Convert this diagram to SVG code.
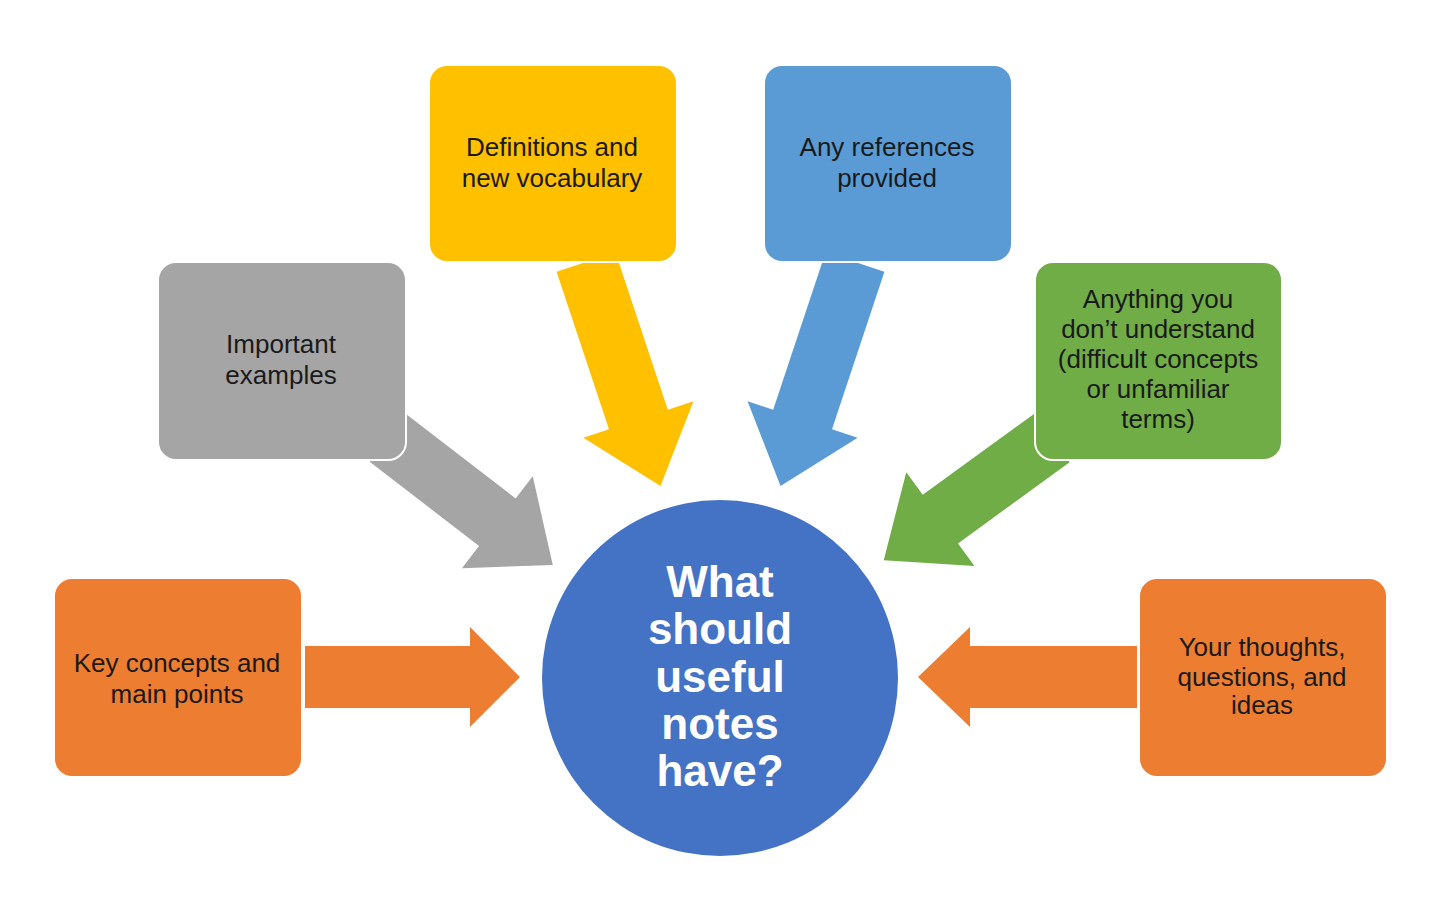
<svg xmlns="http://www.w3.org/2000/svg" width="1448" height="902" viewBox="0 0 1448 902">
<style>
.b{stroke:#fff;stroke-width:2}
.t{font-family:"Liberation Sans",Arial,sans-serif;font-size:26px;fill:#1a1a1a;text-anchor:middle}
.c{font-family:"Liberation Sans",Arial,sans-serif;font-size:44px;font-weight:bold;fill:#fff;text-anchor:middle}
</style>
<rect width="1448" height="902" fill="#fff"/>
<g id="connectors">
<path fill="#ED7D31" d="M305,646 H470 V627 L520,677 L470,727 V708 H305 Z"/>
<path fill="#ED7D31" d="M1137,646 H970 V627 L918,677 L970,727 V708 H1137 Z"/>
<path fill="#A5A5A5" transform="translate(388,438) rotate(37.6)" d="M0,-30 H138 V-58 L208,0 L138,58 V30 H0 Z"/>
<path fill="#FFC000" transform="translate(586,262) rotate(71.6)" d="M0,-31 H166 V-58 L236,0 L166,58 V31 H0 Z"/>
<path fill="#5B9BD5" transform="translate(855,262) rotate(108.4)" d="M0,-31 H166 V-58 L236,0 L166,58 V31 H0 Z"/>
<path fill="#70AD47" transform="translate(1052,438) rotate(144)" d="M0,-30 H138 V-58 L208,0 L138,58 V30 H0 Z"/>
</g>
<g id="center">
<circle cx="720" cy="678" r="178" fill="#4472C4"/>
<text class="c"><tspan x="720" y="597">What</tspan><tspan x="720" y="644">should</tspan><tspan x="720" y="692">useful</tspan><tspan x="720" y="739">notes</tspan><tspan x="720" y="786">have?</tspan></text>
</g>
<g id="key"><rect class="b" x="54" y="578" width="248" height="199" rx="18" fill="#ED7D31"/><text class="t"><tspan x="177" y="672">Key concepts and</tspan><tspan x="177" y="703">main points</tspan></text></g>
<g id="examples"><rect class="b" x="158" y="262" width="248" height="198" rx="18" fill="#A5A5A5"/><text class="t"><tspan x="281" y="353">Important</tspan><tspan x="281" y="384">examples</tspan></text></g>
<g id="definitions"><rect class="b" x="429" y="65" width="248" height="197" rx="18" fill="#FFC000"/><text class="t"><tspan x="552" y="156">Definitions and</tspan><tspan x="552" y="187">new vocabulary</tspan></text></g>
<g id="references"><rect class="b" x="764" y="65" width="248" height="197" rx="18" fill="#5B9BD5"/><text class="t"><tspan x="887" y="156">Any references</tspan><tspan x="887" y="187">provided</tspan></text></g>
<g id="anything"><rect class="b" x="1035" y="262" width="247" height="198" rx="18" fill="#70AD47"/><text class="t"><tspan x="1158" y="308">Anything you</tspan><tspan x="1158" y="338">don’t understand</tspan><tspan x="1158" y="368">(difficult concepts</tspan><tspan x="1158" y="398">or unfamiliar</tspan><tspan x="1158" y="428">terms)</tspan></text></g>
<g id="thoughts"><rect class="b" x="1139" y="578" width="248" height="199" rx="18" fill="#ED7D31"/><text class="t"><tspan x="1262" y="656">Your thoughts,</tspan><tspan x="1262" y="686">questions, and</tspan><tspan x="1262" y="714">ideas</tspan></text></g>
</svg>
